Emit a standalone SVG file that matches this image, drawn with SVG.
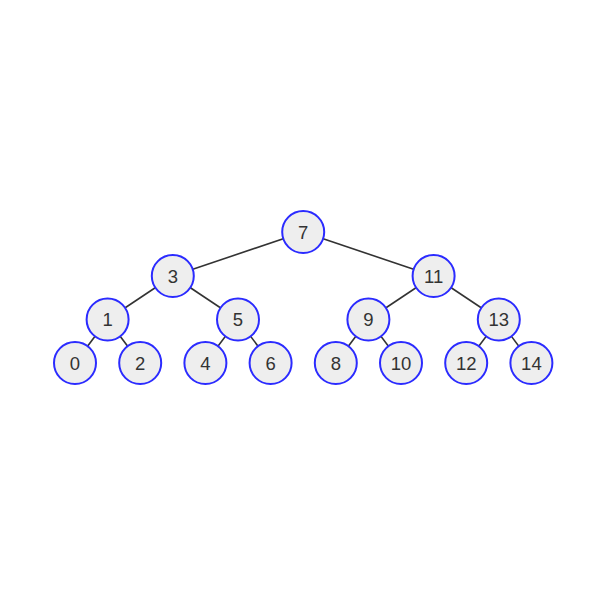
<svg xmlns="http://www.w3.org/2000/svg" width="600" height="600" viewBox="0 0 600 600">
<style>
.n circle{fill:#eeeeee;stroke:#2b2bff;stroke-width:2}
.n text{font-family:"Liberation Sans",Arial,sans-serif;font-size:18.5px;fill:#333;text-anchor:middle;dominant-baseline:central}
.e line{stroke:#333;stroke-width:1.6}
</style>
<rect width="600" height="600" fill="#fff"/>
<g id="edges" class="e">
<line x1="303.2" y1="232" x2="172.8" y2="276"/>
<line x1="303.2" y1="232" x2="433.6" y2="276"/>
<line x1="172.8" y1="276" x2="107.6" y2="319.5"/>
<line x1="172.8" y1="276" x2="238" y2="319.5"/>
<line x1="433.6" y1="276" x2="368.4" y2="319.5"/>
<line x1="433.6" y1="276" x2="498.8" y2="319.5"/>
<line x1="107.6" y1="319.5" x2="75" y2="363"/>
<line x1="107.6" y1="319.5" x2="140.2" y2="363"/>
<line x1="238" y1="319.5" x2="205.4" y2="363"/>
<line x1="238" y1="319.5" x2="270.6" y2="363"/>
<line x1="368.4" y1="319.5" x2="335.8" y2="363"/>
<line x1="368.4" y1="319.5" x2="401" y2="363"/>
<line x1="498.8" y1="319.5" x2="466.2" y2="363"/>
<line x1="498.8" y1="319.5" x2="531.4" y2="363"/>
</g>
<g id="n7" class="n"><circle cx="303.2" cy="232" r="21"/><text x="303.2" y="232">7</text></g>
<g id="n3" class="n"><circle cx="172.8" cy="276" r="21"/><text x="172.8" y="276">3</text></g>
<g id="n11" class="n"><circle cx="433.6" cy="276" r="21"/><text x="433.6" y="276">11</text></g>
<g id="n1" class="n"><circle cx="107.6" cy="319.5" r="21"/><text x="107.6" y="319.5">1</text></g>
<g id="n5" class="n"><circle cx="238" cy="319.5" r="21"/><text x="238" y="319.5">5</text></g>
<g id="n9" class="n"><circle cx="368.4" cy="319.5" r="21"/><text x="368.4" y="319.5">9</text></g>
<g id="n13" class="n"><circle cx="498.8" cy="319.5" r="21"/><text x="498.8" y="319.5">13</text></g>
<g id="n0" class="n"><circle cx="75" cy="363" r="21"/><text x="75" y="363">0</text></g>
<g id="n2" class="n"><circle cx="140.2" cy="363" r="21"/><text x="140.2" y="363">2</text></g>
<g id="n4" class="n"><circle cx="205.4" cy="363" r="21"/><text x="205.4" y="363">4</text></g>
<g id="n6" class="n"><circle cx="270.6" cy="363" r="21"/><text x="270.6" y="363">6</text></g>
<g id="n8" class="n"><circle cx="335.8" cy="363" r="21"/><text x="335.8" y="363">8</text></g>
<g id="n10" class="n"><circle cx="401" cy="363" r="21"/><text x="401" y="363">10</text></g>
<g id="n12" class="n"><circle cx="466.2" cy="363" r="21"/><text x="466.2" y="363">12</text></g>
<g id="n14" class="n"><circle cx="531.4" cy="363" r="21"/><text x="531.4" y="363">14</text></g>
</svg>
